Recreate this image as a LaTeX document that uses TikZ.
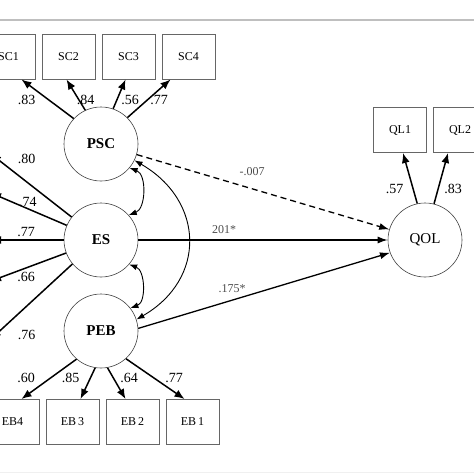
\documentclass[tikz,border=0pt]{standalone}
\usepackage{fontspec}
\setmainfont{Liberation Serif}
\usetikzlibrary{arrows.meta,positioning,calc}

\begin{document}
\begin{tikzpicture}[
  x=1pt, y=-1pt,
  node distance=6pt,
  lat/.style={circle, draw=black!75, semithick, minimum size=74pt, inner sep=0pt,
              font=\fontsize{15}{16}\selectfont\bfseries},
  ind/.style={rectangle, draw=black!60, line width=1pt,
              minimum width=53pt, minimum height=45pt, inner sep=0pt,
              font=\fontsize{12}{13}\selectfont},
  load/.style={-{Latex[length=10pt,width=8pt]}, line width=1.5pt},
  reg/.style={-{Latex[length=10pt,width=7pt]}, line width=1.3pt},
  cov/.style={{Latex[length=8pt,width=6pt]}-{Latex[length=8pt,width=6pt]}, line width=0.9pt},
  lbl/.style={font=\fontsize{14}{15}\selectfont, inner sep=0pt},
  coef/.style={font=\fontsize{12}{13}\selectfont, text=black!70, inner sep=0pt}
]
  \useasboundingbox (0,0) rectangle (474,474);
  \clip (0,0) rectangle (474,474);
  \draw[black!25, line width=2pt] (0,20) -- (474,20);
  \draw[black!6, line width=1pt] (0,472) -- (474,472);

  % latent variables
  \node[lat] (psc) at (101,144) {PSC};
  \node[lat] (es)  at (101,240) {ES};
  \node[lat] (peb) at (101,331) {PEB};
  \node[lat, font=\fontsize{15}{16}\selectfont] (qol) at (425,240) {QOL};

  % indicators
  \node[ind]                (sc1) at (8.5,56.5) {SC1};
  \node[ind, right=of sc1]  (sc2) {SC2};
  \node[ind, right=of sc2]  (sc3) {SC3};
  \node[ind, right=of sc3]  (sc4) {SC4};

  \node[ind]                (eb4) at (12.5,422) {EB4};
  \node[ind, right=of eb4]  (eb3) {EB\,3};
  \node[ind, right=of eb3]  (eb2) {EB\,2};
  \node[ind, right=of eb2]  (eb1) {EB\,1};

  \node[ind]                (ql1) at (400,130) {QL1};
  \node[ind, right=of ql1]  (ql2) {QL2};

  % ES indicators lie outside the frame
  \coordinate (es1) at (-9,154);
  \coordinate (es2) at (-9,193);
  \coordinate (es3) at (-9,240);
  \coordinate (es4) at (-9,281);
  \coordinate (es5) at (-9,339);

  % loadings
  \draw[load] (psc.137) -- ([xshift=13pt]sc1.south);
  \draw[load] (psc.115) -- ([xshift=-2pt]sc2.south);
  \draw[load] (psc.71)  -- ([xshift=-3pt]sc3.south);
  \draw[load] (psc.45)  -- ([xshift=-18pt]sc4.south);

  \draw[load] (es) -- (es1);
  \draw[load] (es) -- (es2);
  \draw[load] (es) -- (es3);
  \draw[load] (es) -- (es4);
  \draw[load] (es.-140) -- (es5);

  \draw[load] (peb.-131) -- ([xshift=9pt]eb4.north);
  \draw[load] (peb.-99)  -- ([xshift=8pt]eb3.north);
  \draw[load] (peb.-80)  -- ([xshift=-7pt]eb2.north);
  \draw[load] (peb.-48)  -- ([xshift=-8pt]eb1.north);

  \draw[load] (qol.102) -- ([xshift=3pt]ql1.south);
  \draw[load] (qol.76)  -- ([xshift=-12pt]ql2.south);

  % structural paths
  \draw[reg, dash pattern=on 6pt off 4pt] (psc) -- (qol);
  \draw[reg] (es) -- (qol);
  \draw[reg] (peb.4) -- (qol.-160);

  % covariances
  \draw[cov] (psc.-40) to[out=-20, in=20] (es.42);
  \draw[cov] (es.-41) to[out=-20, in=20] (peb.38);
  \draw[cov] (psc.-26) to[out=-30, in=30, looseness=1.3] (peb.18);

  % loading labels
  \node[lbl] (lsc1) at (26.5,100) {.83};
  \node[lbl] (lsc2) at (85.5,100) {.84};
  \node[lbl] (lsc3) at (130,100) {.56};
  \node[lbl] (lsc4) at (159,100) {.77};

  \node[lbl] (les1) at (26.5,159) {.80};
  \node[lbl] (les2) at (28,202) {.74};
  \node[lbl] (les3) at (26,232) {.77};
  \node[lbl] (les4) at (26,277) {.66};
  \node[lbl] (les5) at (26.5,335) {.76};

  \node[lbl] (leb4) at (26,378) {.60};
  \node[lbl] (leb3) at (70.5,378) {.85};
  \node[lbl] (leb2) at (129,378) {.64};
  \node[lbl] (leb1) at (174,378) {.77};

  \node[lbl] (lql1) at (394.5,189) {.57};
  \node[lbl] (lql2) at (453,189) {.83};

  % path coefficients
  \node[coef] (cpsc) at (252,172) {-.007};
  \node[coef] (ces)  at (224,230) {201*};
  \node[coef] (cpeb) at (232,289) {.175*};
\end{tikzpicture}
\end{document}
